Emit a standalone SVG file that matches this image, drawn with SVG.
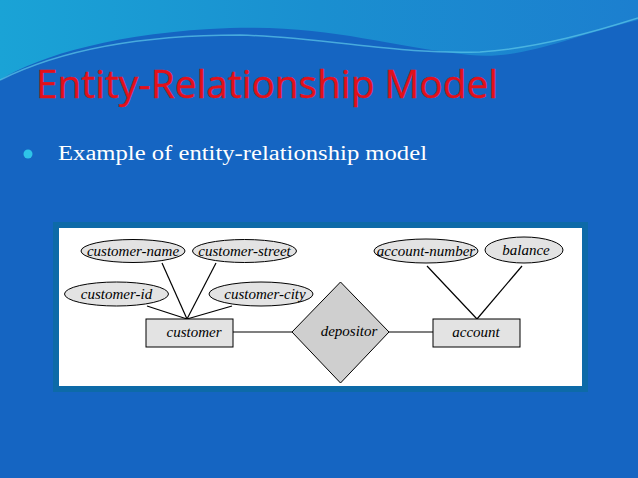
<svg xmlns="http://www.w3.org/2000/svg" width="638" height="478" viewBox="0 0 638 478">
<defs>
<linearGradient id="wave" x1="0" y1="0" x2="1" y2="0">
<stop offset="0" stop-color="#1aa3d6"/><stop offset="0.5" stop-color="#1a8fd0"/><stop offset="1" stop-color="#1c7fcf"/>
</linearGradient>
<style>
.attr{fill:#e3e3e3;stroke:#000;stroke-width:1}
.ent{fill:#e3e3e3;stroke:#000;stroke-width:1}
.t{font-family:"Liberation Serif",serif;font-style:italic;font-size:15px;text-anchor:middle;fill:#000}
.c line{stroke:#000;stroke-width:1.2}
</style>
</defs>
<rect width="638" height="478" fill="#1565c2"/>
<path d="M0,0 H638 V20 C560,40 520,60 470,55 C380,45 330,25 230,28 C120,32 40,55 0,80 Z" fill="url(#wave)"/>
<path d="M0,80 C60,50 140,35 240,35 C330,38 400,55 480,52 C540,48 600,30 638,18" fill="none" stroke="#5cc8e8" stroke-width="1.5" opacity="0.7"/>
<text x="36" y="98" font-family="Open Sans,sans-serif" font-size="39" fill="#e3101a" stroke="#e3101a" stroke-width="0.4" textLength="462" lengthAdjust="spacingAndGlyphs">Entity-Relationship Model</text>
<circle cx="28" cy="154" r="4.5" fill="#2ec4e8"/>
<text x="58" y="160" font-family="Liberation Serif,serif" font-size="20" fill="#fff" textLength="369" lengthAdjust="spacingAndGlyphs">Example of entity-relationship model</text>
<rect x="53" y="222" width="535" height="170" fill="#0d6aa8"/>
<rect x="59" y="228" width="523" height="158" fill="#fff"/>
<g class="c" id="connectors">
<line x1="162" y1="263" x2="187" y2="319"/>
<line x1="216" y1="263" x2="187" y2="319"/>
<line x1="147" y1="306" x2="187" y2="319"/>
<line x1="232" y1="306" x2="187" y2="319"/>
<line x1="427" y1="266" x2="477" y2="319"/>
<line x1="522" y1="266" x2="477" y2="319"/>
<line x1="233" y1="332" x2="292" y2="332"/>
<line x1="389" y1="332" x2="433" y2="332"/>
</g>
<g id="customer-name"><ellipse class="attr" cx="133" cy="251" rx="52" ry="11.5"/><text class="t" x="133" y="256">customer-name</text></g>
<g id="customer-street"><ellipse class="attr" cx="244.5" cy="251" rx="52" ry="11.5"/><text class="t" x="244.5" y="256">customer-street</text></g>
<g id="customer-id"><ellipse class="attr" cx="116.5" cy="294" rx="52" ry="12"/><text class="t" x="116.5" y="299">customer-id</text></g>
<g id="customer-city"><ellipse class="attr" cx="261" cy="294" rx="52" ry="12"/><text class="t" x="265" y="299">customer-city</text></g>
<g id="account-number"><ellipse class="attr" cx="426" cy="251" rx="52" ry="12"/><text class="t" x="426" y="256">account-number</text></g>
<g id="balance"><ellipse class="attr" cx="524" cy="250" rx="39" ry="13"/><text class="t" x="526" y="255">balance</text></g>
<g id="customer"><rect class="ent" x="146" y="319" width="87" height="28"/><text class="t" x="194" y="337">customer</text></g>
<g id="depositor"><polygon class="ent" style="fill:#cfcfcf" points="340.5,282 389,332 340.5,383 292,332"/><text class="t" x="349" y="336">depositor</text></g>
<g id="account"><rect class="ent" x="433" y="319" width="87" height="28"/><text class="t" x="476" y="337">account</text></g>
</svg>
